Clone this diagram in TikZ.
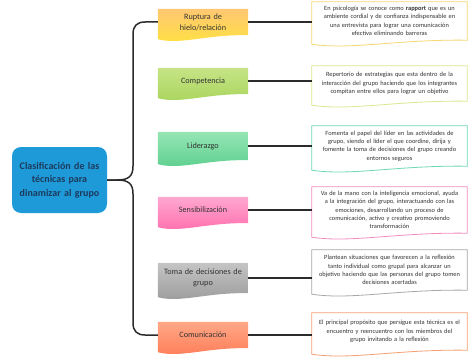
\documentclass[tikz,border=0pt]{standalone}
\usepackage{fontspec}
\setmainfont{Carlito}
\usetikzlibrary{calc,backgrounds}
\definecolor{ctext}{HTML}{333333}
\definecolor{cblue}{HTML}{1E9AD8}
\definecolor{cbluetxt}{HTML}{1D3A5C}
\definecolor{conncol}{HTML}{2B2B2B}
\newcommand\docpath[1]{(#1.north west) -- (#1.north east) -- (#1.south east) .. controls ($(#1.south east)!0.45!(#1.south west)+(0,-1)$) and ($(#1.south east)!0.75!(#1.south west)+(0,10)$) .. ($(#1.south west)+(0,4)$) -- cycle}
\tikzset{
  conn/.style={draw=conncol,line width=1.5pt},
  branch/.style={inner sep=1pt,minimum width=90pt,text width=86pt,align=center,font=\fontsize{8.2}{11}\selectfont,text=ctext},
  desc/.style={inner sep=1pt,minimum width=155pt,text width=152pt,align=center,font=\fontsize{6.4}{8.4}\selectfont,text=ctext},
}
\begin{document}
\begin{tikzpicture}[x=1pt,y=-1pt]
\useasboundingbox (0,0) rectangle (474,361);
% centre
\node[fill=cblue,rounded corners=9pt,minimum width=95pt,minimum height=66pt,text width=88pt,align=center,
  font=\bfseries\fontsize{10}{13.5}\selectfont,text=cbluetxt] (c) at (59.5,180) {Clasificación de las\\técnicas para\\dinamizar al grupo};
% branches
\node[branch,minimum height=26pt] (b1) at (203,22) {Ruptura de\\hielo/relación};
\node[branch,minimum height=26pt] (b2) at (203,81) {Competencia};
\node[branch,minimum height=28pt] (b3) at (203,146) {Liderazgo};
\node[branch,minimum height=26pt] (b4) at (203,210) {Sensibilización};
\node[branch,minimum height=30pt] (b5) at (203,278) {Toma de decisiones de\\grupo};
\node[branch,minimum height=26pt] (b6) at (203,335) {Comunicación};
% descriptions
\node[desc,minimum height=38pt] (d1) at (389.5,21) {En psicología se conoce como \textbf{rapport} que es un\\ambiente cordial y de confianza indispensable en\\una entrevista para lograr una comunicación\\efectiva eliminando barreras};
\node[desc,minimum height=35pt] (d2) at (389.5,83.5) {Repertorio de estrategias que esta dentro de la\\interacción del grupo haciendo que los integrantes\\compitan entre ellos para lograr un objetivo};
\node[desc,minimum height=40pt] (d3) at (389.5,146) {Fomenta el papel del líder en las actividades de\\grupo, siendo el líder el que coordine, dirija y\\fomente la toma de decisiones del grupo creando\\entornos seguros};
\node[desc,minimum height=46pt] (d4) at (389.5,210) {Va de la mano con la inteligencia emocional, ayuda\\a la integración del grupo, interactuando con las\\emociones, desarrollando un proceso de\\comunicación, activo y creativo promoviendo\\transformación};
\node[desc,minimum height=40pt] (d5) at (389.5,270) {Plantean situaciones que favorecen a la reflexión\\tanto individual como grupal para alcanzar un\\objetivo haciendo que las personas del grupo tomen\\decisiones acertadas};
\node[desc,minimum height=37pt] (d6) at (389.5,331.5) {El principal propósito que persigue esta técnica es el\\encuentro y reencuentro con los miembros del\\grupo invitando a la reflexión};
\begin{pgfonlayer}{background}
\path[top color=yellow!20!orange!55!white,bottom color=orange!30!yellow!75!white] \docpath{b1};
\path[shade,top color={rgb,255:red,198;green,228;blue,134},bottom color={rgb,255:red,168;green,212;blue,92}] \docpath{b2};
\path[shade,top color={rgb,255:red,150;green,230;blue,180},bottom color={rgb,255:red,90;green,206;blue,140}] \docpath{b3};
\path[shade,top color={rgb,255:red,255;green,168;blue,208},bottom color={rgb,255:red,255;green,108;blue,172}] \docpath{b4};
\path[shade,top color={rgb,255:red,196;green,196;blue,196},bottom color={rgb,255:red,154;green,154;blue,154}] \docpath{b5};
\path[shade,top color={rgb,255:red,255;green,168;blue,134},bottom color={rgb,255:red,255;green,122;blue,86}] \docpath{b6};
\draw[fill=white,draw={rgb,255:red,246;green,214;blue,110},line width=0.8pt] \docpath{d1};
\draw[fill=white,draw={rgb,255:red,214;green,233;blue,143},line width=0.8pt] \docpath{d2};
\draw[fill=white,draw={rgb,255:red,111;green,217;blue,176},line width=0.8pt] \docpath{d3};
\draw[fill=white,draw={rgb,255:red,240;green,140;blue,191},line width=0.8pt] \docpath{d4};
\draw[fill=white,draw={rgb,255:red,168;green,168;blue,168},line width=0.8pt] \docpath{d5};
\draw[fill=white,draw={rgb,255:red,245;green,160;blue,115},line width=0.8pt] \docpath{d6};
\end{pgfonlayer}
% connectors
\draw[conn] (c.east) -- (117,180) .. controls (129,180) and (133,176) .. (133,166) -- (133,34) .. controls (133,26) and (137,22) .. (145,22) -- (b1.west);
\draw[conn] (c.east) -- (117,180) .. controls (129,180) and (133,184) .. (133,194) -- (133,323) .. controls (133,331) and (137,335) .. (145,335) -- (b6.west);
\foreach \i in {1,...,6}{
  \draw[conn] (b\i.east) -- (b\i.east -| d\i.west);
}
\end{tikzpicture}
\end{document}
